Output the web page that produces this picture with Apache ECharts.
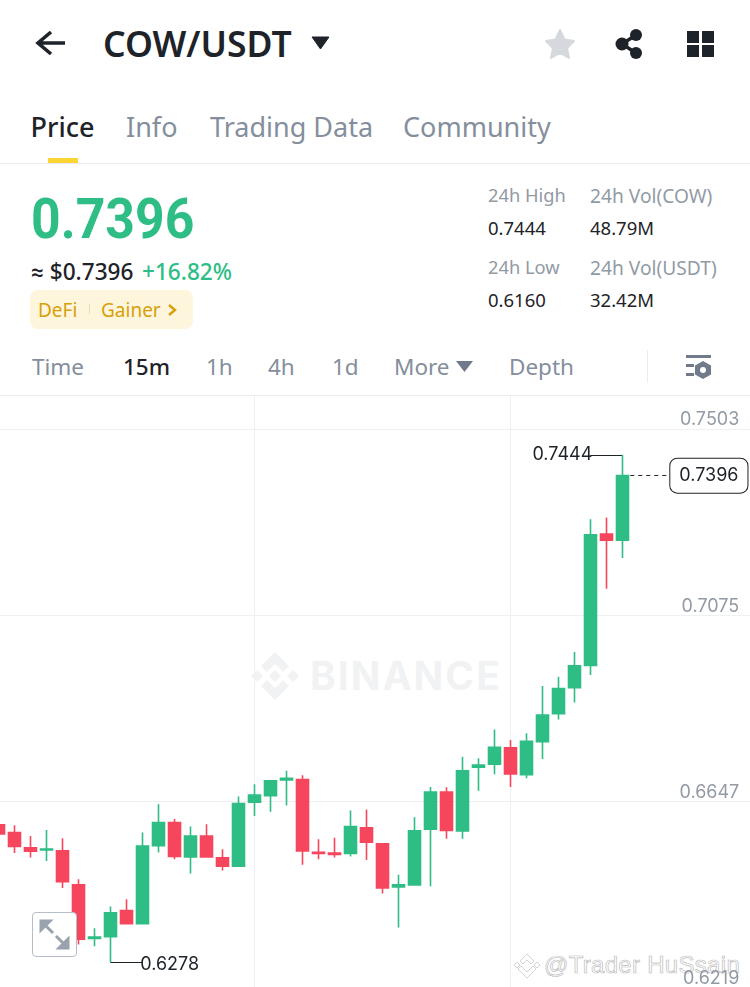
<!DOCTYPE html>
<html>
<head>
<meta charset="utf-8">
<script src="https://cdn.jsdelivr.net/npm/echarts@6/dist/echarts.min.js"></script>
<style>
  html, body { margin: 0; padding: 0; background: #fff; }
  #page { position: relative; width: 750px; height: 987px; overflow: hidden; font-family: "Noto Sans", Roboto, sans-serif; color: #1E2329; }
  #page div.t { position: absolute; white-space: nowrap; line-height: 1; }
  #layer { position: absolute; left: 0; top: 0; }
  #chart { position: absolute; left: 0; top: 396px; width: 750px; height: 591px; }
  .tab { font-size: 27px; color: #848E9C; top: 113px; }
  .stat { font-size: 18.3px; color: #929AA5; }
  .vol { font-size: 19.2px; color: #929AA5; }
  .val { font-size: 18.5px; color: #1E2329; }
  .iv { font-size: 22.5px; color: #848E9C; top: 356px; }
  #expand { position: absolute; left: 32px; top: 912px; width: 43px; height: 43px; border: 1.5px solid #B7BDC6; border-radius: 4px; background: #fff; }
</style>
</head>
<body>
<div id="page">
  <svg id="layer" width="750" height="987">
    <!-- top bar icons -->
    <path d="M65 43H39M51 32L38 43L51 54" fill="none" stroke="#1E2329" stroke-width="3.6"/>
    <polygon points="312,37 329,37 320.5,49" fill="#1E2329" stroke="#1E2329" stroke-width="1" stroke-linejoin="round"/>
    <polygon points="560,30 564.5,39.5 574,41 567,48 569,58 560,53 551,58 553,48 546,41 555.5,39.5" fill="#D5D8DC" stroke="#D5D8DC" stroke-width="2" stroke-linejoin="round"/>
    <path d="M636 35L622 44L636 53" fill="none" stroke="#1E2329" stroke-width="3.5"/>
    <circle cx="636" cy="35" r="6" fill="#1E2329"/><circle cx="636" cy="53" r="6" fill="#1E2329"/><circle cx="622" cy="44" r="6.5" fill="#1E2329"/>
    <rect x="687" y="31" width="12" height="12" fill="#1E2329"/><rect x="702" y="31" width="12" height="12" fill="#1E2329"/>
    <rect x="687" y="45" width="12" height="12" fill="#1E2329"/><rect x="702" y="45" width="12" height="12" fill="#1E2329"/>
    <!-- tab underline and rules -->
    <rect x="48" y="158" width="30" height="5" fill="#FCD535"/>
    <rect x="0" y="163" width="750" height="1" fill="#EAECEF"/>
    <rect x="0" y="395" width="750" height="1" fill="#EAECEF"/>
    <!-- badge -->
    <rect x="30" y="290" width="163" height="39" rx="8" fill="#FEF6DC"/>
    <rect x="89" y="304" width="1" height="10" fill="#EADFB8"/>
    <path d="M169 305L175 310L169 315" fill="none" stroke="#D89F0A" stroke-width="2.4"/>
    <!-- interval row -->
    <polygon points="456,361 473,361 464.5,372" fill="#707A8A"/>
    <rect x="647" y="350" width="1" height="33" fill="#EAECEF"/>
    <rect x="686" y="355" width="25" height="3" fill="#707A8A"/>
    <rect x="686" y="364" width="8" height="3" fill="#707A8A"/><rect x="686" y="373" width="8" height="3" fill="#707A8A"/>
    <polygon points="703,361 711,365.5 711,374.5 703,379 695,374.5 695,365.5" fill="#707A8A"/>
    <circle cx="703" cy="370" r="3" fill="#fff"/>
    <!-- watermarks, behind the chart -->
    <g fill="#F1F2F3" transform="translate(251,652)">
      <polygon points="24,0 38,14 32,20 24,12 16,20 10,14"/>
      <polygon points="24,48 38,34 32,28 24,36 16,28 10,34"/>
      <polygon points="24,18 30,24 24,30 18,24"/>
      <polygon points="6,18 12,24 6,30 0,24"/><polygon points="42,18 48,24 42,30 36,24"/>
    </g>
    <g fill="none" stroke="#C9C9C9" stroke-width="0.8" transform="translate(514,954)">
      <polygon points="13,0 20,7 17,10 13,6 9,10 6,7"/>
      <polygon points="13,24 22,15 19,12 13,18 7,12 4,15"/>
      <polygon points="3,8 6,11 3,14 0,11"/><polygon points="23,8 26,11 23,14 20,11"/>
    </g>
  </svg>

  <div class="t" style="left:103px;top:26px;font-size:35.5px;font-weight:600;">COW/USDT</div>
  <div class="t tab" style="left:30.5px;color:#1E2329;font-weight:500;">Price</div>
  <div class="t tab" style="left:126px;">Info</div>
  <div class="t tab" style="left:210px;">Trading Data</div>
  <div class="t tab" style="left:403px;">Community</div>

  <div class="t" style="left:31px;top:192px;font-size:55px;font-weight:700;color:#2EBD85;font-family:Roboto;transform:scaleX(0.94);transform-origin:left;">0.7396</div>
  <div class="t" style="left:31px;top:261px;font-size:22.6px;font-weight:500;">≈ $0.7396</div>
  <div class="t" style="left:142px;top:261px;font-size:22.6px;font-weight:500;color:#2EBD85;">+16.82%</div>
  <div class="t" style="left:38px;top:301px;font-size:19px;color:#D89F0A;">DeFi</div>
  <div class="t" style="left:101px;top:301px;font-size:19px;color:#D89F0A;">Gainer</div>

  <div class="t stat" style="left:488px;top:186px;">24h High</div>
  <div class="t vol" style="left:590px;top:186px;">24h Vol(COW)</div>
  <div class="t val" style="left:488px;top:219px;">0.7444</div>
  <div class="t val" style="left:590px;top:219px;">48.79M</div>
  <div class="t stat" style="left:488px;top:258px;">24h Low</div>
  <div class="t vol" style="left:590px;top:258px;">24h Vol(USDT)</div>
  <div class="t val" style="left:488px;top:291px;">0.6160</div>
  <div class="t val" style="left:590px;top:291px;">32.42M</div>

  <div class="t iv" style="left:32px;">Time</div>
  <div class="t iv" style="left:123px;color:#1E2329;font-weight:500;">15m</div>
  <div class="t iv" style="left:206px;">1h</div>
  <div class="t iv" style="left:268px;">4h</div>
  <div class="t iv" style="left:332px;">1d</div>
  <div class="t iv" style="left:394px;">More</div>
  <div class="t iv" style="left:509px;">Depth</div>

  <div class="t" style="left:310px;top:656px;font-size:39px;font-weight:700;color:#F1F2F3;font-family:Inter;letter-spacing:2px;">BINANCE</div>
  <div class="t" style="left:544px;top:953px;font-size:24px;color:#fff;-webkit-text-stroke:0.7px #BDBDBD;font-family:'Liberation Sans';letter-spacing:0.3px;">@Trader HuSsain</div>

  <div id="chart"></div>

  <div id="expand">
    <svg width="43" height="43">
      <path d="M8 8L20 20M8 8h9l-9 9zM35 35L23 23M35 35h-9l9-9z" fill="#9AA2AD" stroke="#9AA2AD" stroke-width="3"/>
    </svg>
  </div>
</div>

<script>
// 15m candles, oldest first; the empty slots on the right keep room for the price tag
const categories = ['1','2','3','4','5','6','7','8','9','10','11','12','13','14','15','16',
  '17','18','19','20','21','22','23','24','25','26','27','28','29','30','31','32',
  '33','34','35','36','37','38','39','40','41','42','43','44','45','46','47','48'];
const opens = [0.6594,0.6576,0.6541,0.6536,0.6534,0.6456,0.6333,0.6337,0.6397,0.6367,
  0.6546,0.6599,0.6520,0.6568,0.6518,0.6499,0.6646,0.6661,0.6697,0.6698,
  0.6531,0.6529,0.6528,0.6587,0.6550,0.6451,0.6456,0.6584,0.6669,0.6580,
  0.6726,0.6733,0.6771,0.6709,0.6785,0.6849,0.6909,0.6960,0.7262,0.7248];
const closes = [0.6573,0.6544,0.6533,0.6538,0.6463,0.6331,0.6336,0.6392,0.6367,0.6545,
  0.6599,0.6521,0.6568,0.6520,0.6499,0.6643,0.6662,0.6695,0.6701,0.6534,
  0.6528,0.6526,0.6590,0.6554,0.6449,0.6456,0.6580,0.6669,0.6581,0.6718,
  0.6731,0.6772,0.6711,0.6786,0.6846,0.6907,0.6959,0.7260,0.7248,0.7396];
const lows = [0.6573,0.6529,0.6519,0.6511,0.6449,0.6319,0.6315,0.6278,0.6367,0.6367,
  0.6530,0.6515,0.6482,0.6520,0.6489,0.6499,0.6614,0.6624,0.6638,0.6502,
  0.6515,0.6519,0.6521,0.6513,0.6436,0.6358,0.6456,0.6453,0.6562,0.6562,
  0.6672,0.6710,0.6681,0.6701,0.6745,0.6836,0.6875,0.6938,0.7136,0.7207];
const highs = [0.6594,0.6593,0.6568,0.6582,0.6563,0.6469,0.6356,0.6406,0.6423,0.6576,
  0.6641,0.6607,0.6590,0.6595,0.6538,0.6659,0.6687,0.6697,0.6718,0.6708,
  0.6561,0.6564,0.6627,0.6629,0.6550,0.6479,0.6611,0.6681,0.6680,0.6750,
  0.6747,0.6813,0.6789,0.6804,0.6913,0.6934,0.6991,0.7296,0.7300,0.7444];
const priceTicks = [0.6219, 0.6647, 0.7075, 0.7503];
const lastPrice = 0.7396;
const highPrice = 0.7444;
const lowPrice = 0.6278;

const green = '#2EBD85';
const red = '#F6465D';
const calloutLine = { color: '#1E2329', width: 1, type: 'solid' };
const labelFont = { fontFamily: 'Inter', fontSize: 18 };

const candles = opens.map((o, i) => [o, closes[i], lows[i], highs[i]]);

const myChart = echarts.init(document.getElementById('chart'), null, { renderer: 'canvas' });
myChart.setOption({
  animation: false,
  backgroundColor: 'transparent',
  // the plot runs past the canvas on three sides, v6 would pull it back in otherwise
  grid: { left: -9.7, right: -8.3, top: 0, bottom: -1, outerBoundsMode: 'none' },
  xAxis: {
    type: 'category',
    data: categories,
    axisLine: { show: false },
    axisTick: { show: false },
    axisLabel: { show: false },
    splitLine: { show: false }
  },
  yAxis: {
    type: 'value',
    position: 'right',
    min: 0.6219,
    max: 0.7579,
    axisLine: { show: false },
    axisTick: { show: false, customValues: priceTicks },
    axisLabel: {
      inside: true,
      customValues: priceTicks,
      formatter: v => v.toFixed(4),
      margin: 19,
      verticalAlign: 'bottom',
      color: '#929AA5',
      ...labelFont
    },
    splitLine: { show: true, lineStyle: { color: '#EEF0F2', width: 1 } }
  },
  series: [{
    type: 'candlestick',
    data: candles,
    z: 2,
    barWidth: 12.5,
    itemStyle: {
      color: green,
      color0: red,
      borderColor: green,
      borderColor0: red,
      borderWidth: 1.6
    },
    markLine: {
      silent: true,
      z: 1,
      symbol: 'none',
      animation: false,
      data: [
        { xAxis: 16, label: { show: false }, lineStyle: { color: '#EEF0F2', width: 1, type: 'solid' } },
        { xAxis: 32, label: { show: false }, lineStyle: { color: '#EEF0F2', width: 1, type: 'solid' } },
        [
          {
            coord: [39, highPrice],
            lineStyle: calloutLine,
            label: { show: true, position: 'end', distance: 1, offset: [3, 0], formatter: highPrice.toFixed(4), color: '#1E2329', ...labelFont }
          },
          { coord: [37, highPrice] }
        ],
        [
          {
            coord: [7, lowPrice],
            lineStyle: calloutLine,
            label: { show: true, position: 'end', distance: 1, offset: [-3, 2], formatter: lowPrice.toFixed(4), color: '#1E2329', ...labelFont }
          },
          { coord: [9, lowPrice] }
        ],
        [
          {
            coord: [39, lastPrice],
            lineStyle: { color: '#1E2329', width: 1, type: [4, 4] },
            label: {
              show: true,
              position: 'end',
              distance: 0,
              formatter: lastPrice.toFixed(4),
              color: '#1E2329',
              ...labelFont,
              backgroundColor: '#fff',
              borderColor: '#1E2329',
              borderWidth: 1,
              borderRadius: 7,
              padding: [8, 9, 8, 9]
            }
          },
          { coord: [42, lastPrice] }
        ]
      ]
    }
  }]
});
</script>
</body>
</html>
